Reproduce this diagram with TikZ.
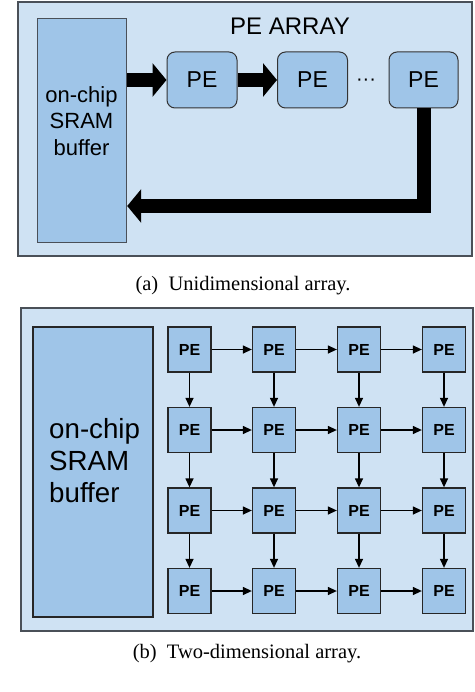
\documentclass[tikz,border=0pt]{standalone}
\usepackage{fontspec}
\setmainfont{Liberation Serif}
\setsansfont{Liberation Sans}
\usetikzlibrary{arrows.meta}
\definecolor{bgblue}{HTML}{CFE2F3}
\definecolor{boxblue}{HTML}{9FC5E8}
\definecolor{edgegray}{HTML}{4A5058}
\begin{document}
\begin{tikzpicture}[x=1pt,y=-1pt,
  outerbox/.style={draw=edgegray,line width=2pt,fill=bgblue},
  srambox/.style={draw=edgegray,line width=1.2pt,fill=boxblue},
  pea/.style={draw=black!80,line width=1pt,fill=boxblue,rounded corners=8pt,
    minimum width=70pt,minimum height=56pt,inner sep=0pt,
    font=\sffamily\fontsize{23}{23}\selectfont},
  peb/.style={draw=black!85,line width=1.3pt,fill=boxblue,
    minimum width=43pt,minimum height=45pt,inner sep=0pt,
    font=\sffamily\bfseries\fontsize{16}{16}\selectfont},
  bigarrow/.style={line width=14pt,line join=miter,
    -{Triangle[length=14pt,width=33pt]}},
  smallarrow/.style={line width=1.3pt,-{Triangle[length=9pt,width=8pt]}},
  caption/.style={font=\rmfamily\fontsize{20.5}{20.5}\selectfont,inner sep=0pt}]
\useasboundingbox (0,0) rectangle (474,692);
% ---------- (a) ----------
\node[outerbox,minimum width=454pt,minimum height=254pt,inner sep=0pt,anchor=north west] (outA) at (17,1) {};
\node[srambox,minimum width=89pt,minimum height=224pt,inner sep=0pt,anchor=north west] (sramA) at (37,18) {};
\node[align=center,font=\sffamily\fontsize{22}{26.5}\selectfont,inner sep=0pt] (sramAtxt) at (81.5,121) {on-chip\\SRAM\\buffer};
\node[font=\sffamily\fontsize{24}{24}\selectfont,inner sep=0pt] (title) at (290,26) {PE ARRAY};
\node[pea] (pe1) at (202,80) {PE};
\node[pea] (pe2) at (312.5,80) {PE};
\node[pea,minimum width=69pt] (pe3) at (423.5,80) {PE};
\node[font=\sffamily\fontsize{20}{20}\selectfont,inner sep=0pt] (dots) at (366,82) {···};
\coordinate (ret) at (0,206);
\draw[bigarrow] (sramA.east |- pe1.west) -- (pe1.west);
\draw[bigarrow] (pe1.east) -- (pe2.west);
\draw[bigarrow] (pe3.south) |- (sramA.east |- ret);
\node[caption] (capA) at (243,286) {(a)\ \ Unidimensional array.};
% ---------- (b) ----------
\node[outerbox,minimum width=452pt,minimum height=323pt,inner sep=0pt,anchor=north west] (outB) at (20,307) {};
\node[srambox,line width=1.5pt,draw=black!85,minimum width=120pt,minimum height=290pt,inner sep=0pt,anchor=north west] (sramB) at (32,326) {};
\node[align=left,anchor=west,font=\sffamily\fontsize{27.7}{32}\selectfont,inner sep=0pt] (sramBtxt) at (49,461) {on-chip\\SRAM\\buffer};
\foreach \c/\x in {1/189.5,2/274,3/359,4/444}{
  \foreach \r/\y in {1/349.5,2/430,3/510.5,4/591}{
    \node[peb] (p\r\c) at (\x,\y) {PE};
  }
}
\foreach \r in {1,2,3,4}{
  \draw[smallarrow] (p\r1.east) -- (p\r2.west);
  \draw[smallarrow] (p\r2.east) -- (p\r3.west);
  \draw[smallarrow] (p\r3.east) -- (p\r4.west);
}
\foreach \c in {1,2,3,4}{
  \draw[smallarrow] (p1\c.south) -- (p2\c.north);
  \draw[smallarrow] (p2\c.south) -- (p3\c.north);
  \draw[smallarrow] (p3\c.south) -- (p4\c.north);
}
\node[caption] (capB) at (247,654) {(b)\ \ Two-dimensional array.};
\end{tikzpicture}
\end{document}
